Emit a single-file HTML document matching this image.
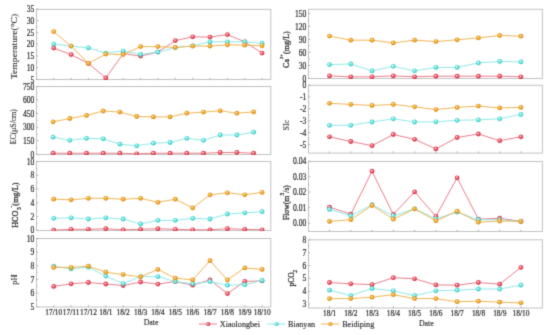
<!DOCTYPE html><html><head><meta charset="utf-8"><style>
html,body{margin:0;padding:0;background:#fff;overflow:hidden;}
svg{display:block;}
text{font-family:"Liberation Serif", serif;fill:#2c2c2c;}
.tk{stroke:#2c2c2c;stroke-width:0.22px;}
.tt{stroke:#2c2c2c;stroke-width:0.25px;}
.lg{stroke:#2c2c2c;stroke-width:0.15px;}
.t2{stroke:#2c2c2c;stroke-width:0.1px;}
</style></head><body>
<svg width="550" height="335" viewBox="0 0 550 335">
<defs>
<radialGradient id="gR" cx="0.5" cy="0.5" r="0.55" fx="0.36" fy="0.32"><stop offset="0" stop-color="#ffffff"/><stop offset="0.22" stop-color="#f8a8b0"/><stop offset="0.55" stop-color="#e84a5a"/><stop offset="1" stop-color="#cc3445"/></radialGradient>
<radialGradient id="gC" cx="0.5" cy="0.5" r="0.55" fx="0.36" fy="0.32"><stop offset="0" stop-color="#ffffff"/><stop offset="0.22" stop-color="#b8f6f2"/><stop offset="0.55" stop-color="#58deD8"/><stop offset="1" stop-color="#36c2c2"/></radialGradient>
<radialGradient id="gO" cx="0.5" cy="0.5" r="0.55" fx="0.36" fy="0.32"><stop offset="0" stop-color="#fff6dc"/><stop offset="0.22" stop-color="#f8cc70"/><stop offset="0.55" stop-color="#eea226"/><stop offset="1" stop-color="#d4881a"/></radialGradient>
<filter id="bl" x="0" y="0" width="1" height="1" color-interpolation-filters="sRGB"><feConvolveMatrix order="3" kernelMatrix="0.0192 0.1001 0.0192 0.1001 0.5228 0.1001 0.0192 0.1001 0.0192" edgeMode="duplicate" preserveAlpha="false"/></filter>
</defs>
<g filter="url(#bl)">
<rect x="0" y="0" width="550" height="335" fill="#fff"/>
<rect x="36.5" y="9.4" width="234.3" height="70.1" fill="none" stroke="#c2c2c2" stroke-width="1"/>
<line x1="36.5" y1="9.0" x2="38.3" y2="9.0" stroke="#999" stroke-width="0.7"/>
<line x1="36.5" y1="14.8" x2="37.7" y2="14.8" stroke="#aaa" stroke-width="0.6"/>
<text transform="translate(34.30,12.15) scale(0.810,1)" font-size="9.40" text-anchor="end" class="tk">35</text>
<line x1="36.5" y1="20.7" x2="38.3" y2="20.7" stroke="#999" stroke-width="0.7"/>
<line x1="36.5" y1="26.5" x2="37.7" y2="26.5" stroke="#aaa" stroke-width="0.6"/>
<text transform="translate(34.30,23.85) scale(0.810,1)" font-size="9.40" text-anchor="end" class="tk">30</text>
<line x1="36.5" y1="32.4" x2="38.3" y2="32.4" stroke="#999" stroke-width="0.7"/>
<line x1="36.5" y1="38.3" x2="37.7" y2="38.3" stroke="#aaa" stroke-width="0.6"/>
<text transform="translate(34.30,35.55) scale(0.810,1)" font-size="9.40" text-anchor="end" class="tk">25</text>
<line x1="36.5" y1="44.2" x2="38.3" y2="44.2" stroke="#999" stroke-width="0.7"/>
<line x1="36.5" y1="50.0" x2="37.7" y2="50.0" stroke="#aaa" stroke-width="0.6"/>
<text transform="translate(34.30,47.35) scale(0.810,1)" font-size="9.40" text-anchor="end" class="tk">20</text>
<line x1="36.5" y1="55.9" x2="38.3" y2="55.9" stroke="#999" stroke-width="0.7"/>
<line x1="36.5" y1="61.8" x2="37.7" y2="61.8" stroke="#aaa" stroke-width="0.6"/>
<text transform="translate(34.30,59.05) scale(0.810,1)" font-size="9.40" text-anchor="end" class="tk">15</text>
<line x1="36.5" y1="67.7" x2="38.3" y2="67.7" stroke="#999" stroke-width="0.7"/>
<line x1="36.5" y1="73.6" x2="37.7" y2="73.6" stroke="#aaa" stroke-width="0.6"/>
<text transform="translate(34.30,70.85) scale(0.810,1)" font-size="9.40" text-anchor="end" class="tk">10</text>
<line x1="36.5" y1="79.4" x2="38.3" y2="79.4" stroke="#999" stroke-width="0.7"/>
<text transform="translate(34.30,82.55) scale(0.810,1)" font-size="9.40" text-anchor="end" class="tk">5</text>
<line x1="53.7" y1="79.5" x2="53.7" y2="77.7" stroke="#999" stroke-width="0.7"/>
<line x1="71.1" y1="79.5" x2="71.1" y2="77.7" stroke="#999" stroke-width="0.7"/>
<line x1="88.4" y1="79.5" x2="88.4" y2="77.7" stroke="#999" stroke-width="0.7"/>
<line x1="105.8" y1="79.5" x2="105.8" y2="77.7" stroke="#999" stroke-width="0.7"/>
<line x1="123.2" y1="79.5" x2="123.2" y2="77.7" stroke="#999" stroke-width="0.7"/>
<line x1="140.6" y1="79.5" x2="140.6" y2="77.7" stroke="#999" stroke-width="0.7"/>
<line x1="157.9" y1="79.5" x2="157.9" y2="77.7" stroke="#999" stroke-width="0.7"/>
<line x1="175.3" y1="79.5" x2="175.3" y2="77.7" stroke="#999" stroke-width="0.7"/>
<line x1="192.7" y1="79.5" x2="192.7" y2="77.7" stroke="#999" stroke-width="0.7"/>
<line x1="210.0" y1="79.5" x2="210.0" y2="77.7" stroke="#999" stroke-width="0.7"/>
<line x1="227.4" y1="79.5" x2="227.4" y2="77.7" stroke="#999" stroke-width="0.7"/>
<line x1="244.8" y1="79.5" x2="244.8" y2="77.7" stroke="#999" stroke-width="0.7"/>
<line x1="262.1" y1="79.5" x2="262.1" y2="77.7" stroke="#999" stroke-width="0.7"/>
<rect x="36.5" y="86.5" width="234.3" height="68.0" fill="none" stroke="#c2c2c2" stroke-width="1"/>
<line x1="36.5" y1="86.4" x2="38.3" y2="86.4" stroke="#999" stroke-width="0.7"/>
<line x1="36.5" y1="93.2" x2="37.7" y2="93.2" stroke="#aaa" stroke-width="0.6"/>
<text transform="translate(34.30,89.55) scale(0.810,1)" font-size="9.40" text-anchor="end" class="tk">750</text>
<line x1="36.5" y1="100.0" x2="38.3" y2="100.0" stroke="#999" stroke-width="0.7"/>
<line x1="36.5" y1="106.8" x2="37.7" y2="106.8" stroke="#aaa" stroke-width="0.6"/>
<text transform="translate(34.30,103.15) scale(0.810,1)" font-size="9.40" text-anchor="end" class="tk">600</text>
<line x1="36.5" y1="113.6" x2="38.3" y2="113.6" stroke="#999" stroke-width="0.7"/>
<line x1="36.5" y1="120.4" x2="37.7" y2="120.4" stroke="#aaa" stroke-width="0.6"/>
<text transform="translate(34.30,116.75) scale(0.810,1)" font-size="9.40" text-anchor="end" class="tk">450</text>
<line x1="36.5" y1="127.2" x2="38.3" y2="127.2" stroke="#999" stroke-width="0.7"/>
<line x1="36.5" y1="134.0" x2="37.7" y2="134.0" stroke="#aaa" stroke-width="0.6"/>
<text transform="translate(34.30,130.35) scale(0.810,1)" font-size="9.40" text-anchor="end" class="tk">300</text>
<line x1="36.5" y1="140.8" x2="38.3" y2="140.8" stroke="#999" stroke-width="0.7"/>
<line x1="36.5" y1="147.6" x2="37.7" y2="147.6" stroke="#aaa" stroke-width="0.6"/>
<text transform="translate(34.30,143.95) scale(0.810,1)" font-size="9.40" text-anchor="end" class="tk">150</text>
<line x1="36.5" y1="154.4" x2="38.3" y2="154.4" stroke="#999" stroke-width="0.7"/>
<text transform="translate(34.30,157.55) scale(0.810,1)" font-size="9.40" text-anchor="end" class="tk">0</text>
<line x1="53.1" y1="154.5" x2="53.1" y2="152.7" stroke="#999" stroke-width="0.7"/>
<line x1="69.8" y1="154.5" x2="69.8" y2="152.7" stroke="#999" stroke-width="0.7"/>
<line x1="86.5" y1="154.5" x2="86.5" y2="152.7" stroke="#999" stroke-width="0.7"/>
<line x1="103.2" y1="154.5" x2="103.2" y2="152.7" stroke="#999" stroke-width="0.7"/>
<line x1="119.9" y1="154.5" x2="119.9" y2="152.7" stroke="#999" stroke-width="0.7"/>
<line x1="136.7" y1="154.5" x2="136.7" y2="152.7" stroke="#999" stroke-width="0.7"/>
<line x1="153.4" y1="154.5" x2="153.4" y2="152.7" stroke="#999" stroke-width="0.7"/>
<line x1="170.1" y1="154.5" x2="170.1" y2="152.7" stroke="#999" stroke-width="0.7"/>
<line x1="186.8" y1="154.5" x2="186.8" y2="152.7" stroke="#999" stroke-width="0.7"/>
<line x1="203.5" y1="154.5" x2="203.5" y2="152.7" stroke="#999" stroke-width="0.7"/>
<line x1="220.2" y1="154.5" x2="220.2" y2="152.7" stroke="#999" stroke-width="0.7"/>
<line x1="236.9" y1="154.5" x2="236.9" y2="152.7" stroke="#999" stroke-width="0.7"/>
<line x1="253.6" y1="154.5" x2="253.6" y2="152.7" stroke="#999" stroke-width="0.7"/>
<rect x="36.5" y="161.5" width="234.3" height="69.0" fill="none" stroke="#c2c2c2" stroke-width="1"/>
<line x1="36.5" y1="161.5" x2="38.3" y2="161.5" stroke="#999" stroke-width="0.7"/>
<line x1="36.5" y1="168.4" x2="37.7" y2="168.4" stroke="#aaa" stroke-width="0.6"/>
<text transform="translate(34.30,164.65) scale(0.810,1)" font-size="9.40" text-anchor="end" class="tk">10</text>
<line x1="36.5" y1="175.3" x2="38.3" y2="175.3" stroke="#999" stroke-width="0.7"/>
<line x1="36.5" y1="182.2" x2="37.7" y2="182.2" stroke="#aaa" stroke-width="0.6"/>
<text transform="translate(34.30,178.45) scale(0.810,1)" font-size="9.40" text-anchor="end" class="tk">8</text>
<line x1="36.5" y1="189.0" x2="38.3" y2="189.0" stroke="#999" stroke-width="0.7"/>
<line x1="36.5" y1="195.9" x2="37.7" y2="195.9" stroke="#aaa" stroke-width="0.6"/>
<text transform="translate(34.30,192.15) scale(0.810,1)" font-size="9.40" text-anchor="end" class="tk">6</text>
<line x1="36.5" y1="202.8" x2="38.3" y2="202.8" stroke="#999" stroke-width="0.7"/>
<line x1="36.5" y1="209.7" x2="37.7" y2="209.7" stroke="#aaa" stroke-width="0.6"/>
<text transform="translate(34.30,205.95) scale(0.810,1)" font-size="9.40" text-anchor="end" class="tk">4</text>
<line x1="36.5" y1="216.5" x2="38.3" y2="216.5" stroke="#999" stroke-width="0.7"/>
<line x1="36.5" y1="223.4" x2="37.7" y2="223.4" stroke="#aaa" stroke-width="0.6"/>
<text transform="translate(34.30,219.65) scale(0.810,1)" font-size="9.40" text-anchor="end" class="tk">2</text>
<line x1="36.5" y1="230.3" x2="38.3" y2="230.3" stroke="#999" stroke-width="0.7"/>
<text transform="translate(34.30,233.45) scale(0.810,1)" font-size="9.40" text-anchor="end" class="tk">0</text>
<line x1="53.7" y1="230.5" x2="53.7" y2="228.7" stroke="#999" stroke-width="0.7"/>
<line x1="71.1" y1="230.5" x2="71.1" y2="228.7" stroke="#999" stroke-width="0.7"/>
<line x1="88.4" y1="230.5" x2="88.4" y2="228.7" stroke="#999" stroke-width="0.7"/>
<line x1="105.8" y1="230.5" x2="105.8" y2="228.7" stroke="#999" stroke-width="0.7"/>
<line x1="123.2" y1="230.5" x2="123.2" y2="228.7" stroke="#999" stroke-width="0.7"/>
<line x1="140.6" y1="230.5" x2="140.6" y2="228.7" stroke="#999" stroke-width="0.7"/>
<line x1="157.9" y1="230.5" x2="157.9" y2="228.7" stroke="#999" stroke-width="0.7"/>
<line x1="175.3" y1="230.5" x2="175.3" y2="228.7" stroke="#999" stroke-width="0.7"/>
<line x1="192.7" y1="230.5" x2="192.7" y2="228.7" stroke="#999" stroke-width="0.7"/>
<line x1="210.0" y1="230.5" x2="210.0" y2="228.7" stroke="#999" stroke-width="0.7"/>
<line x1="227.4" y1="230.5" x2="227.4" y2="228.7" stroke="#999" stroke-width="0.7"/>
<line x1="244.8" y1="230.5" x2="244.8" y2="228.7" stroke="#999" stroke-width="0.7"/>
<line x1="262.1" y1="230.5" x2="262.1" y2="228.7" stroke="#999" stroke-width="0.7"/>
<rect x="36.5" y="238.5" width="234.3" height="68.5" fill="none" stroke="#c2c2c2" stroke-width="1"/>
<line x1="36.5" y1="238.5" x2="38.3" y2="238.5" stroke="#999" stroke-width="0.7"/>
<line x1="36.5" y1="245.3" x2="37.7" y2="245.3" stroke="#aaa" stroke-width="0.6"/>
<text transform="translate(34.30,241.65) scale(0.810,1)" font-size="9.40" text-anchor="end" class="tk">10</text>
<line x1="36.5" y1="252.2" x2="38.3" y2="252.2" stroke="#999" stroke-width="0.7"/>
<line x1="36.5" y1="259.0" x2="37.7" y2="259.0" stroke="#aaa" stroke-width="0.6"/>
<text transform="translate(34.30,255.35) scale(0.810,1)" font-size="9.40" text-anchor="end" class="tk">9</text>
<line x1="36.5" y1="265.8" x2="38.3" y2="265.8" stroke="#999" stroke-width="0.7"/>
<line x1="36.5" y1="272.6" x2="37.7" y2="272.6" stroke="#aaa" stroke-width="0.6"/>
<text transform="translate(34.30,268.95) scale(0.810,1)" font-size="9.40" text-anchor="end" class="tk">8</text>
<line x1="36.5" y1="279.5" x2="38.3" y2="279.5" stroke="#999" stroke-width="0.7"/>
<line x1="36.5" y1="286.3" x2="37.7" y2="286.3" stroke="#aaa" stroke-width="0.6"/>
<text transform="translate(34.30,282.65) scale(0.810,1)" font-size="9.40" text-anchor="end" class="tk">7</text>
<line x1="36.5" y1="293.1" x2="38.3" y2="293.1" stroke="#999" stroke-width="0.7"/>
<line x1="36.5" y1="300.0" x2="37.7" y2="300.0" stroke="#aaa" stroke-width="0.6"/>
<text transform="translate(34.30,296.25) scale(0.810,1)" font-size="9.40" text-anchor="end" class="tk">6</text>
<line x1="36.5" y1="306.8" x2="38.3" y2="306.8" stroke="#999" stroke-width="0.7"/>
<text transform="translate(34.30,309.95) scale(0.810,1)" font-size="9.40" text-anchor="end" class="tk">5</text>
<line x1="53.7" y1="307.0" x2="53.7" y2="305.2" stroke="#999" stroke-width="0.7"/>
<line x1="71.1" y1="307.0" x2="71.1" y2="305.2" stroke="#999" stroke-width="0.7"/>
<line x1="88.4" y1="307.0" x2="88.4" y2="305.2" stroke="#999" stroke-width="0.7"/>
<line x1="105.8" y1="307.0" x2="105.8" y2="305.2" stroke="#999" stroke-width="0.7"/>
<line x1="123.2" y1="307.0" x2="123.2" y2="305.2" stroke="#999" stroke-width="0.7"/>
<line x1="140.6" y1="307.0" x2="140.6" y2="305.2" stroke="#999" stroke-width="0.7"/>
<line x1="157.9" y1="307.0" x2="157.9" y2="305.2" stroke="#999" stroke-width="0.7"/>
<line x1="175.3" y1="307.0" x2="175.3" y2="305.2" stroke="#999" stroke-width="0.7"/>
<line x1="192.7" y1="307.0" x2="192.7" y2="305.2" stroke="#999" stroke-width="0.7"/>
<line x1="210.0" y1="307.0" x2="210.0" y2="305.2" stroke="#999" stroke-width="0.7"/>
<line x1="227.4" y1="307.0" x2="227.4" y2="305.2" stroke="#999" stroke-width="0.7"/>
<line x1="244.8" y1="307.0" x2="244.8" y2="305.2" stroke="#999" stroke-width="0.7"/>
<line x1="262.1" y1="307.0" x2="262.1" y2="305.2" stroke="#999" stroke-width="0.7"/>
<rect x="308.5" y="9.3" width="233.9" height="69.2" fill="none" stroke="#c2c2c2" stroke-width="1"/>
<line x1="308.5" y1="13.5" x2="310.3" y2="13.5" stroke="#999" stroke-width="0.7"/>
<line x1="308.5" y1="19.9" x2="309.7" y2="19.9" stroke="#aaa" stroke-width="0.6"/>
<text transform="translate(306.30,16.65) scale(0.810,1)" font-size="9.40" text-anchor="end" class="tk">150</text>
<line x1="308.5" y1="26.4" x2="310.3" y2="26.4" stroke="#999" stroke-width="0.7"/>
<line x1="308.5" y1="32.9" x2="309.7" y2="32.9" stroke="#aaa" stroke-width="0.6"/>
<text transform="translate(306.30,29.55) scale(0.810,1)" font-size="9.40" text-anchor="end" class="tk">120</text>
<line x1="308.5" y1="39.4" x2="310.3" y2="39.4" stroke="#999" stroke-width="0.7"/>
<line x1="308.5" y1="45.9" x2="309.7" y2="45.9" stroke="#aaa" stroke-width="0.6"/>
<text transform="translate(306.30,42.55) scale(0.810,1)" font-size="9.40" text-anchor="end" class="tk">90</text>
<line x1="308.5" y1="52.4" x2="310.3" y2="52.4" stroke="#999" stroke-width="0.7"/>
<line x1="308.5" y1="58.9" x2="309.7" y2="58.9" stroke="#aaa" stroke-width="0.6"/>
<text transform="translate(306.30,55.55) scale(0.810,1)" font-size="9.40" text-anchor="end" class="tk">60</text>
<line x1="308.5" y1="65.4" x2="310.3" y2="65.4" stroke="#999" stroke-width="0.7"/>
<line x1="308.5" y1="71.9" x2="309.7" y2="71.9" stroke="#aaa" stroke-width="0.6"/>
<text transform="translate(306.30,68.55) scale(0.810,1)" font-size="9.40" text-anchor="end" class="tk">30</text>
<line x1="308.5" y1="78.4" x2="310.3" y2="78.4" stroke="#999" stroke-width="0.7"/>
<text transform="translate(306.30,81.55) scale(0.810,1)" font-size="9.40" text-anchor="end" class="tk">0</text>
<line x1="329.5" y1="78.5" x2="329.5" y2="76.7" stroke="#999" stroke-width="0.7"/>
<line x1="350.8" y1="78.5" x2="350.8" y2="76.7" stroke="#999" stroke-width="0.7"/>
<line x1="372.0" y1="78.5" x2="372.0" y2="76.7" stroke="#999" stroke-width="0.7"/>
<line x1="393.3" y1="78.5" x2="393.3" y2="76.7" stroke="#999" stroke-width="0.7"/>
<line x1="414.6" y1="78.5" x2="414.6" y2="76.7" stroke="#999" stroke-width="0.7"/>
<line x1="435.9" y1="78.5" x2="435.9" y2="76.7" stroke="#999" stroke-width="0.7"/>
<line x1="457.1" y1="78.5" x2="457.1" y2="76.7" stroke="#999" stroke-width="0.7"/>
<line x1="478.4" y1="78.5" x2="478.4" y2="76.7" stroke="#999" stroke-width="0.7"/>
<line x1="499.7" y1="78.5" x2="499.7" y2="76.7" stroke="#999" stroke-width="0.7"/>
<line x1="520.9" y1="78.5" x2="520.9" y2="76.7" stroke="#999" stroke-width="0.7"/>
<rect x="308.5" y="85.3" width="233.9" height="67.8" fill="none" stroke="#c2c2c2" stroke-width="1"/>
<line x1="308.5" y1="85.0" x2="310.3" y2="85.0" stroke="#999" stroke-width="0.7"/>
<line x1="308.5" y1="91.0" x2="309.7" y2="91.0" stroke="#aaa" stroke-width="0.6"/>
<text transform="translate(306.30,88.15) scale(0.810,1)" font-size="9.40" text-anchor="end" class="tk">0</text>
<line x1="308.5" y1="96.9" x2="310.3" y2="96.9" stroke="#999" stroke-width="0.7"/>
<line x1="308.5" y1="102.8" x2="309.7" y2="102.8" stroke="#aaa" stroke-width="0.6"/>
<text transform="translate(306.30,100.05) scale(0.810,1)" font-size="9.40" text-anchor="end" class="tk">-1</text>
<line x1="308.5" y1="108.8" x2="310.3" y2="108.8" stroke="#999" stroke-width="0.7"/>
<line x1="308.5" y1="114.8" x2="309.7" y2="114.8" stroke="#aaa" stroke-width="0.6"/>
<text transform="translate(306.30,111.95) scale(0.810,1)" font-size="9.40" text-anchor="end" class="tk">-2</text>
<line x1="308.5" y1="120.7" x2="310.3" y2="120.7" stroke="#999" stroke-width="0.7"/>
<line x1="308.5" y1="126.7" x2="309.7" y2="126.7" stroke="#aaa" stroke-width="0.6"/>
<text transform="translate(306.30,123.85) scale(0.810,1)" font-size="9.40" text-anchor="end" class="tk">-3</text>
<line x1="308.5" y1="132.6" x2="310.3" y2="132.6" stroke="#999" stroke-width="0.7"/>
<line x1="308.5" y1="138.6" x2="309.7" y2="138.6" stroke="#aaa" stroke-width="0.6"/>
<text transform="translate(306.30,135.75) scale(0.810,1)" font-size="9.40" text-anchor="end" class="tk">-4</text>
<line x1="308.5" y1="144.5" x2="310.3" y2="144.5" stroke="#999" stroke-width="0.7"/>
<text transform="translate(306.30,147.65) scale(0.810,1)" font-size="9.40" text-anchor="end" class="tk">-5</text>
<line x1="329.5" y1="153.1" x2="329.5" y2="151.3" stroke="#999" stroke-width="0.7"/>
<line x1="350.8" y1="153.1" x2="350.8" y2="151.3" stroke="#999" stroke-width="0.7"/>
<line x1="372.0" y1="153.1" x2="372.0" y2="151.3" stroke="#999" stroke-width="0.7"/>
<line x1="393.3" y1="153.1" x2="393.3" y2="151.3" stroke="#999" stroke-width="0.7"/>
<line x1="414.6" y1="153.1" x2="414.6" y2="151.3" stroke="#999" stroke-width="0.7"/>
<line x1="435.9" y1="153.1" x2="435.9" y2="151.3" stroke="#999" stroke-width="0.7"/>
<line x1="457.1" y1="153.1" x2="457.1" y2="151.3" stroke="#999" stroke-width="0.7"/>
<line x1="478.4" y1="153.1" x2="478.4" y2="151.3" stroke="#999" stroke-width="0.7"/>
<line x1="499.7" y1="153.1" x2="499.7" y2="151.3" stroke="#999" stroke-width="0.7"/>
<line x1="520.9" y1="153.1" x2="520.9" y2="151.3" stroke="#999" stroke-width="0.7"/>
<rect x="308.5" y="161.5" width="233.9" height="70.0" fill="none" stroke="#c2c2c2" stroke-width="1"/>
<line x1="308.5" y1="161.0" x2="310.3" y2="161.0" stroke="#999" stroke-width="0.7"/>
<line x1="308.5" y1="168.8" x2="309.7" y2="168.8" stroke="#aaa" stroke-width="0.6"/>
<text transform="translate(306.30,164.15) scale(0.810,1)" font-size="9.40" text-anchor="end" class="tk">0.04</text>
<line x1="308.5" y1="176.6" x2="310.3" y2="176.6" stroke="#999" stroke-width="0.7"/>
<line x1="308.5" y1="184.3" x2="309.7" y2="184.3" stroke="#aaa" stroke-width="0.6"/>
<text transform="translate(306.30,179.70) scale(0.810,1)" font-size="9.40" text-anchor="end" class="tk">0.03</text>
<line x1="308.5" y1="192.1" x2="310.3" y2="192.1" stroke="#999" stroke-width="0.7"/>
<line x1="308.5" y1="199.9" x2="309.7" y2="199.9" stroke="#aaa" stroke-width="0.6"/>
<text transform="translate(306.30,195.25) scale(0.810,1)" font-size="9.40" text-anchor="end" class="tk">0.02</text>
<line x1="308.5" y1="207.7" x2="310.3" y2="207.7" stroke="#999" stroke-width="0.7"/>
<line x1="308.5" y1="215.4" x2="309.7" y2="215.4" stroke="#aaa" stroke-width="0.6"/>
<text transform="translate(306.30,210.80) scale(0.810,1)" font-size="9.40" text-anchor="end" class="tk">0.01</text>
<line x1="308.5" y1="223.2" x2="310.3" y2="223.2" stroke="#999" stroke-width="0.7"/>
<text transform="translate(306.30,226.35) scale(0.810,1)" font-size="9.40" text-anchor="end" class="tk">0.00</text>
<line x1="329.5" y1="231.5" x2="329.5" y2="229.7" stroke="#999" stroke-width="0.7"/>
<line x1="350.8" y1="231.5" x2="350.8" y2="229.7" stroke="#999" stroke-width="0.7"/>
<line x1="372.0" y1="231.5" x2="372.0" y2="229.7" stroke="#999" stroke-width="0.7"/>
<line x1="393.3" y1="231.5" x2="393.3" y2="229.7" stroke="#999" stroke-width="0.7"/>
<line x1="414.6" y1="231.5" x2="414.6" y2="229.7" stroke="#999" stroke-width="0.7"/>
<line x1="435.9" y1="231.5" x2="435.9" y2="229.7" stroke="#999" stroke-width="0.7"/>
<line x1="457.1" y1="231.5" x2="457.1" y2="229.7" stroke="#999" stroke-width="0.7"/>
<line x1="478.4" y1="231.5" x2="478.4" y2="229.7" stroke="#999" stroke-width="0.7"/>
<line x1="499.7" y1="231.5" x2="499.7" y2="229.7" stroke="#999" stroke-width="0.7"/>
<line x1="520.9" y1="231.5" x2="520.9" y2="229.7" stroke="#999" stroke-width="0.7"/>
<rect x="308.5" y="239.8" width="233.9" height="68.2" fill="none" stroke="#c2c2c2" stroke-width="1"/>
<line x1="308.5" y1="239.8" x2="310.3" y2="239.8" stroke="#999" stroke-width="0.7"/>
<line x1="308.5" y1="246.2" x2="309.7" y2="246.2" stroke="#aaa" stroke-width="0.6"/>
<text transform="translate(306.30,242.95) scale(0.810,1)" font-size="9.40" text-anchor="end" class="tk">8</text>
<line x1="308.5" y1="252.6" x2="310.3" y2="252.6" stroke="#999" stroke-width="0.7"/>
<line x1="308.5" y1="259.1" x2="309.7" y2="259.1" stroke="#aaa" stroke-width="0.6"/>
<text transform="translate(306.30,255.75) scale(0.810,1)" font-size="9.40" text-anchor="end" class="tk">7</text>
<line x1="308.5" y1="265.5" x2="310.3" y2="265.5" stroke="#999" stroke-width="0.7"/>
<line x1="308.5" y1="271.9" x2="309.7" y2="271.9" stroke="#aaa" stroke-width="0.6"/>
<text transform="translate(306.30,268.65) scale(0.810,1)" font-size="9.40" text-anchor="end" class="tk">6</text>
<line x1="308.5" y1="278.3" x2="310.3" y2="278.3" stroke="#999" stroke-width="0.7"/>
<line x1="308.5" y1="284.8" x2="309.7" y2="284.8" stroke="#aaa" stroke-width="0.6"/>
<text transform="translate(306.30,281.45) scale(0.810,1)" font-size="9.40" text-anchor="end" class="tk">5</text>
<line x1="308.5" y1="291.2" x2="310.3" y2="291.2" stroke="#999" stroke-width="0.7"/>
<line x1="308.5" y1="297.6" x2="309.7" y2="297.6" stroke="#aaa" stroke-width="0.6"/>
<text transform="translate(306.30,294.35) scale(0.810,1)" font-size="9.40" text-anchor="end" class="tk">4</text>
<line x1="308.5" y1="304.0" x2="310.3" y2="304.0" stroke="#999" stroke-width="0.7"/>
<text transform="translate(306.30,307.15) scale(0.810,1)" font-size="9.40" text-anchor="end" class="tk">3</text>
<line x1="329.5" y1="308.0" x2="329.5" y2="306.2" stroke="#999" stroke-width="0.7"/>
<line x1="350.8" y1="308.0" x2="350.8" y2="306.2" stroke="#999" stroke-width="0.7"/>
<line x1="372.0" y1="308.0" x2="372.0" y2="306.2" stroke="#999" stroke-width="0.7"/>
<line x1="393.3" y1="308.0" x2="393.3" y2="306.2" stroke="#999" stroke-width="0.7"/>
<line x1="414.6" y1="308.0" x2="414.6" y2="306.2" stroke="#999" stroke-width="0.7"/>
<line x1="435.9" y1="308.0" x2="435.9" y2="306.2" stroke="#999" stroke-width="0.7"/>
<line x1="457.1" y1="308.0" x2="457.1" y2="306.2" stroke="#999" stroke-width="0.7"/>
<line x1="478.4" y1="308.0" x2="478.4" y2="306.2" stroke="#999" stroke-width="0.7"/>
<line x1="499.7" y1="308.0" x2="499.7" y2="306.2" stroke="#999" stroke-width="0.7"/>
<line x1="520.9" y1="308.0" x2="520.9" y2="306.2" stroke="#999" stroke-width="0.7"/>
<text transform="translate(53.70,314.70) scale(0.930,1)" font-size="8.00" text-anchor="middle" class="tk">17/10</text>
<text transform="translate(71.07,314.70) scale(0.930,1)" font-size="8.00" text-anchor="middle" class="tk">17/11</text>
<text transform="translate(88.44,314.70) scale(0.930,1)" font-size="8.00" text-anchor="middle" class="tk">17/12</text>
<text transform="translate(105.81,314.70) scale(0.930,1)" font-size="8.00" text-anchor="middle" class="tk">18/1</text>
<text transform="translate(123.18,314.70) scale(0.930,1)" font-size="8.00" text-anchor="middle" class="tk">18/2</text>
<text transform="translate(140.55,314.70) scale(0.930,1)" font-size="8.00" text-anchor="middle" class="tk">18/3</text>
<text transform="translate(157.92,314.70) scale(0.930,1)" font-size="8.00" text-anchor="middle" class="tk">18/4</text>
<text transform="translate(175.29,314.70) scale(0.930,1)" font-size="8.00" text-anchor="middle" class="tk">18/5</text>
<text transform="translate(192.66,314.70) scale(0.930,1)" font-size="8.00" text-anchor="middle" class="tk">18/6</text>
<text transform="translate(210.03,314.70) scale(0.930,1)" font-size="8.00" text-anchor="middle" class="tk">18/7</text>
<text transform="translate(227.40,314.70) scale(0.930,1)" font-size="8.00" text-anchor="middle" class="tk">18/8</text>
<text transform="translate(244.77,314.70) scale(0.930,1)" font-size="8.00" text-anchor="middle" class="tk">18/9</text>
<text transform="translate(262.14,314.70) scale(0.930,1)" font-size="8.00" text-anchor="middle" class="tk">18/10</text>
<text transform="translate(329.60,315.90) scale(0.930,1)" font-size="8.00" text-anchor="middle" class="tk">18/1</text>
<text transform="translate(350.87,315.90) scale(0.930,1)" font-size="8.00" text-anchor="middle" class="tk">18/2</text>
<text transform="translate(372.14,315.90) scale(0.930,1)" font-size="8.00" text-anchor="middle" class="tk">18/3</text>
<text transform="translate(393.41,315.90) scale(0.930,1)" font-size="8.00" text-anchor="middle" class="tk">18/4</text>
<text transform="translate(414.68,315.90) scale(0.930,1)" font-size="8.00" text-anchor="middle" class="tk">18/5</text>
<text transform="translate(435.95,315.90) scale(0.930,1)" font-size="8.00" text-anchor="middle" class="tk">18/6</text>
<text transform="translate(457.22,315.90) scale(0.930,1)" font-size="8.00" text-anchor="middle" class="tk">18/7</text>
<text transform="translate(478.49,315.90) scale(0.930,1)" font-size="8.00" text-anchor="middle" class="tk">18/8</text>
<text transform="translate(499.76,315.90) scale(0.930,1)" font-size="8.00" text-anchor="middle" class="tk">18/9</text>
<text transform="translate(521.03,315.90) scale(0.930,1)" font-size="8.00" text-anchor="middle" class="tk">18/10</text>
<text transform="translate(151.10,325.00) scale(0.900,1)" font-size="8.70" text-anchor="middle" class="lg">Date</text>
<text transform="translate(426.30,325.60) scale(0.900,1)" font-size="8.70" text-anchor="middle" class="lg">Date</text>
<text transform="translate(16.8,46.5) rotate(-90)" font-size="9.20" text-anchor="middle" class="t2" textLength="65.5" lengthAdjust="spacingAndGlyphs">Temperature(&#176;C)</text>
<text transform="translate(16.3,126.7) rotate(-90)" font-size="7.80" text-anchor="middle" class="t2" textLength="35.0" lengthAdjust="spacingAndGlyphs">EC(&#956;S/cm)</text>
<g transform="translate(18.00,227.80) rotate(-90)">
<text x="0.00" y="0.00" font-size="8.20" class="tt">HCO</text>
<text x="17.70" y="2.50" font-size="5.50" class="tt">3</text>
<text x="20.30" y="-5.00" font-size="5.50" class="tt">-</text>
<text x="22.00" y="0.00" font-size="8.20" class="tt">(mg/L)</text>
</g>
<text transform="translate(17.0,279.6) rotate(-90)" font-size="8.60" text-anchor="middle" class="t2" textLength="10.3" lengthAdjust="spacingAndGlyphs">pH</text>
<g transform="translate(289.00,68.00) rotate(-90)">
<text x="0.00" y="0.00" font-size="8.10" class="tt">Ca</text>
<text x="9.00" y="-5.60" font-size="4.40" class="tt">2+</text>
<text x="13.90" y="0.00" font-size="8.10" class="tt">(mg/L)</text>
</g>
<text transform="translate(289.3,125.2) rotate(-90)" font-size="8.00" text-anchor="middle" class="t2" textLength="10.5" lengthAdjust="spacingAndGlyphs">SIc</text>
<g transform="translate(288.60,220.10) rotate(-90)">
<text x="0.00" y="0.00" font-size="7.70" class="tt">Flow(m</text>
<text x="24.60" y="-4.80" font-size="5.40" class="tt">3</text>
<text x="27.40" y="0.00" font-size="7.60" class="tt">/s)</text>
</g>
<g transform="translate(294.30,286.40) rotate(-90)">
<text x="0.00" y="0.00" font-size="7.50" class="tt">pCO</text>
<text x="13.60" y="2.60" font-size="5.80" class="tt">2</text>
</g>
<clipPath id="cpL1"><rect x="33.5" y="8.9" width="240.3" height="71.1"/></clipPath>
<g clip-path="url(#cpL1)">
<polyline points="53.7,48.1 71.1,54.6 88.4,63.4 105.8,78.0 123.2,53.6 140.6,56.1 157.9,52.1 175.3,40.6 192.7,36.8 210.0,37.1 227.4,34.6 244.8,41.8 262.1,53.1" fill="none" stroke="#e8707e" stroke-width="0.90"/>
<circle cx="53.7" cy="48.1" r="2.4" fill="url(#gR)"/>
<circle cx="71.1" cy="54.6" r="2.4" fill="url(#gR)"/>
<circle cx="88.4" cy="63.4" r="2.4" fill="url(#gR)"/>
<circle cx="105.8" cy="78.0" r="2.4" fill="url(#gR)"/>
<circle cx="123.2" cy="53.6" r="2.4" fill="url(#gR)"/>
<circle cx="140.6" cy="56.1" r="2.4" fill="url(#gR)"/>
<circle cx="157.9" cy="52.1" r="2.4" fill="url(#gR)"/>
<circle cx="175.3" cy="40.6" r="2.4" fill="url(#gR)"/>
<circle cx="192.7" cy="36.8" r="2.4" fill="url(#gR)"/>
<circle cx="210.0" cy="37.1" r="2.4" fill="url(#gR)"/>
<circle cx="227.4" cy="34.6" r="2.4" fill="url(#gR)"/>
<circle cx="244.8" cy="41.8" r="2.4" fill="url(#gR)"/>
<circle cx="262.1" cy="53.1" r="2.4" fill="url(#gR)"/>
<polyline points="53.7,44.1 71.1,46.1 88.4,47.9 105.8,53.1 123.2,51.1 140.6,54.4 157.9,52.1 175.3,47.6 192.7,45.9 210.0,41.8 227.4,41.8 244.8,41.8 262.1,43.5" fill="none" stroke="#84e6e2" stroke-width="0.90"/>
<circle cx="53.7" cy="44.1" r="2.4" fill="url(#gC)"/>
<circle cx="71.1" cy="46.1" r="2.4" fill="url(#gC)"/>
<circle cx="88.4" cy="47.9" r="2.4" fill="url(#gC)"/>
<circle cx="105.8" cy="53.1" r="2.4" fill="url(#gC)"/>
<circle cx="123.2" cy="51.1" r="2.4" fill="url(#gC)"/>
<circle cx="140.6" cy="54.4" r="2.4" fill="url(#gC)"/>
<circle cx="157.9" cy="52.1" r="2.4" fill="url(#gC)"/>
<circle cx="175.3" cy="47.6" r="2.4" fill="url(#gC)"/>
<circle cx="192.7" cy="45.9" r="2.4" fill="url(#gC)"/>
<circle cx="210.0" cy="41.8" r="2.4" fill="url(#gC)"/>
<circle cx="227.4" cy="41.8" r="2.4" fill="url(#gC)"/>
<circle cx="244.8" cy="41.8" r="2.4" fill="url(#gC)"/>
<circle cx="262.1" cy="43.5" r="2.4" fill="url(#gC)"/>
<polyline points="53.7,31.6 71.1,46.1 88.4,63.4 105.8,54.1 123.2,54.6 140.6,46.6 157.9,46.6 175.3,47.4 192.7,46.1 210.0,46.1 227.4,44.8 244.8,45.2 262.1,45.8" fill="none" stroke="#ecad44" stroke-width="0.90"/>
<circle cx="53.7" cy="31.6" r="2.4" fill="url(#gO)"/>
<circle cx="71.1" cy="46.1" r="2.4" fill="url(#gO)"/>
<circle cx="88.4" cy="63.4" r="2.4" fill="url(#gO)"/>
<circle cx="105.8" cy="54.1" r="2.4" fill="url(#gO)"/>
<circle cx="123.2" cy="54.6" r="2.4" fill="url(#gO)"/>
<circle cx="140.6" cy="46.6" r="2.4" fill="url(#gO)"/>
<circle cx="157.9" cy="46.6" r="2.4" fill="url(#gO)"/>
<circle cx="175.3" cy="47.4" r="2.4" fill="url(#gO)"/>
<circle cx="192.7" cy="46.1" r="2.4" fill="url(#gO)"/>
<circle cx="210.0" cy="46.1" r="2.4" fill="url(#gO)"/>
<circle cx="227.4" cy="44.8" r="2.4" fill="url(#gO)"/>
<circle cx="244.8" cy="45.2" r="2.4" fill="url(#gO)"/>
<circle cx="262.1" cy="45.8" r="2.4" fill="url(#gO)"/>
</g>
<clipPath id="cpL2"><rect x="33.5" y="86.0" width="240.3" height="69.0"/></clipPath>
<g clip-path="url(#cpL2)">
<polyline points="53.1,153.2 69.8,153.2 86.5,153.2 103.2,153.2 119.9,153.2 136.7,153.8 153.4,153.2 170.1,153.2 186.8,153.2 203.5,153.2 220.2,152.5 236.9,152.5 253.6,153.2" fill="none" stroke="#e8707e" stroke-width="0.90"/>
<circle cx="53.1" cy="153.2" r="2.4" fill="url(#gR)"/>
<circle cx="69.8" cy="153.2" r="2.4" fill="url(#gR)"/>
<circle cx="86.5" cy="153.2" r="2.4" fill="url(#gR)"/>
<circle cx="103.2" cy="153.2" r="2.4" fill="url(#gR)"/>
<circle cx="119.9" cy="153.2" r="2.4" fill="url(#gR)"/>
<circle cx="136.7" cy="153.8" r="2.4" fill="url(#gR)"/>
<circle cx="153.4" cy="153.2" r="2.4" fill="url(#gR)"/>
<circle cx="170.1" cy="153.2" r="2.4" fill="url(#gR)"/>
<circle cx="186.8" cy="153.2" r="2.4" fill="url(#gR)"/>
<circle cx="203.5" cy="153.2" r="2.4" fill="url(#gR)"/>
<circle cx="220.2" cy="152.5" r="2.4" fill="url(#gR)"/>
<circle cx="236.9" cy="152.5" r="2.4" fill="url(#gR)"/>
<circle cx="253.6" cy="153.2" r="2.4" fill="url(#gR)"/>
<polyline points="53.1,137.2 69.8,140.3 86.5,138.3 103.2,138.8 119.9,144.2 136.7,145.8 153.4,143.2 170.1,142.5 186.8,138.3 203.5,140.3 220.2,135.0 236.9,135.0 253.6,132.2" fill="none" stroke="#84e6e2" stroke-width="0.90"/>
<circle cx="53.1" cy="137.2" r="2.4" fill="url(#gC)"/>
<circle cx="69.8" cy="140.3" r="2.4" fill="url(#gC)"/>
<circle cx="86.5" cy="138.3" r="2.4" fill="url(#gC)"/>
<circle cx="103.2" cy="138.8" r="2.4" fill="url(#gC)"/>
<circle cx="119.9" cy="144.2" r="2.4" fill="url(#gC)"/>
<circle cx="136.7" cy="145.8" r="2.4" fill="url(#gC)"/>
<circle cx="153.4" cy="143.2" r="2.4" fill="url(#gC)"/>
<circle cx="170.1" cy="142.5" r="2.4" fill="url(#gC)"/>
<circle cx="186.8" cy="138.3" r="2.4" fill="url(#gC)"/>
<circle cx="203.5" cy="140.3" r="2.4" fill="url(#gC)"/>
<circle cx="220.2" cy="135.0" r="2.4" fill="url(#gC)"/>
<circle cx="236.9" cy="135.0" r="2.4" fill="url(#gC)"/>
<circle cx="253.6" cy="132.2" r="2.4" fill="url(#gC)"/>
<polyline points="53.1,121.8 69.8,118.5 86.5,115.4 103.2,111.0 119.9,112.1 136.7,116.5 153.4,116.9 170.1,116.9 186.8,113.2 203.5,112.1 220.2,110.8 236.9,113.2 253.6,111.9" fill="none" stroke="#ecad44" stroke-width="0.90"/>
<circle cx="53.1" cy="121.8" r="2.4" fill="url(#gO)"/>
<circle cx="69.8" cy="118.5" r="2.4" fill="url(#gO)"/>
<circle cx="86.5" cy="115.4" r="2.4" fill="url(#gO)"/>
<circle cx="103.2" cy="111.0" r="2.4" fill="url(#gO)"/>
<circle cx="119.9" cy="112.1" r="2.4" fill="url(#gO)"/>
<circle cx="136.7" cy="116.5" r="2.4" fill="url(#gO)"/>
<circle cx="153.4" cy="116.9" r="2.4" fill="url(#gO)"/>
<circle cx="170.1" cy="116.9" r="2.4" fill="url(#gO)"/>
<circle cx="186.8" cy="113.2" r="2.4" fill="url(#gO)"/>
<circle cx="203.5" cy="112.1" r="2.4" fill="url(#gO)"/>
<circle cx="220.2" cy="110.8" r="2.4" fill="url(#gO)"/>
<circle cx="236.9" cy="113.2" r="2.4" fill="url(#gO)"/>
<circle cx="253.6" cy="111.9" r="2.4" fill="url(#gO)"/>
</g>
<clipPath id="cpL3"><rect x="33.5" y="161.0" width="240.3" height="70.0"/></clipPath>
<g clip-path="url(#cpL3)">
<polyline points="53.7,230.2 71.1,229.3 88.4,229.3 105.8,228.7 123.2,229.9 140.6,229.3 157.9,228.7 175.3,229.3 192.7,229.8 210.0,229.8 227.4,228.7 244.8,229.3 262.1,229.8" fill="none" stroke="#e8707e" stroke-width="0.90"/>
<circle cx="53.7" cy="230.2" r="2.4" fill="url(#gR)"/>
<circle cx="71.1" cy="229.3" r="2.4" fill="url(#gR)"/>
<circle cx="88.4" cy="229.3" r="2.4" fill="url(#gR)"/>
<circle cx="105.8" cy="228.7" r="2.4" fill="url(#gR)"/>
<circle cx="123.2" cy="229.9" r="2.4" fill="url(#gR)"/>
<circle cx="140.6" cy="229.3" r="2.4" fill="url(#gR)"/>
<circle cx="157.9" cy="228.7" r="2.4" fill="url(#gR)"/>
<circle cx="175.3" cy="229.3" r="2.4" fill="url(#gR)"/>
<circle cx="192.7" cy="229.8" r="2.4" fill="url(#gR)"/>
<circle cx="210.0" cy="229.8" r="2.4" fill="url(#gR)"/>
<circle cx="227.4" cy="228.7" r="2.4" fill="url(#gR)"/>
<circle cx="244.8" cy="229.3" r="2.4" fill="url(#gR)"/>
<circle cx="262.1" cy="229.8" r="2.4" fill="url(#gR)"/>
<polyline points="53.7,218.3 71.1,217.8 88.4,219.0 105.8,217.8 123.2,219.0 140.6,224.0 157.9,220.3 175.3,220.3 192.7,218.3 210.0,219.0 227.4,214.0 244.8,212.8 262.1,211.7" fill="none" stroke="#84e6e2" stroke-width="0.90"/>
<circle cx="53.7" cy="218.3" r="2.4" fill="url(#gC)"/>
<circle cx="71.1" cy="217.8" r="2.4" fill="url(#gC)"/>
<circle cx="88.4" cy="219.0" r="2.4" fill="url(#gC)"/>
<circle cx="105.8" cy="217.8" r="2.4" fill="url(#gC)"/>
<circle cx="123.2" cy="219.0" r="2.4" fill="url(#gC)"/>
<circle cx="140.6" cy="224.0" r="2.4" fill="url(#gC)"/>
<circle cx="157.9" cy="220.3" r="2.4" fill="url(#gC)"/>
<circle cx="175.3" cy="220.3" r="2.4" fill="url(#gC)"/>
<circle cx="192.7" cy="218.3" r="2.4" fill="url(#gC)"/>
<circle cx="210.0" cy="219.0" r="2.4" fill="url(#gC)"/>
<circle cx="227.4" cy="214.0" r="2.4" fill="url(#gC)"/>
<circle cx="244.8" cy="212.8" r="2.4" fill="url(#gC)"/>
<circle cx="262.1" cy="211.7" r="2.4" fill="url(#gC)"/>
<polyline points="53.7,199.2 71.1,199.8 88.4,198.3 105.8,198.3 123.2,199.2 140.6,198.3 157.9,202.3 175.3,199.2 192.7,207.9 210.0,194.8 227.4,192.8 244.8,194.8 262.1,192.4" fill="none" stroke="#ecad44" stroke-width="0.90"/>
<circle cx="53.7" cy="199.2" r="2.4" fill="url(#gO)"/>
<circle cx="71.1" cy="199.8" r="2.4" fill="url(#gO)"/>
<circle cx="88.4" cy="198.3" r="2.4" fill="url(#gO)"/>
<circle cx="105.8" cy="198.3" r="2.4" fill="url(#gO)"/>
<circle cx="123.2" cy="199.2" r="2.4" fill="url(#gO)"/>
<circle cx="140.6" cy="198.3" r="2.4" fill="url(#gO)"/>
<circle cx="157.9" cy="202.3" r="2.4" fill="url(#gO)"/>
<circle cx="175.3" cy="199.2" r="2.4" fill="url(#gO)"/>
<circle cx="192.7" cy="207.9" r="2.4" fill="url(#gO)"/>
<circle cx="210.0" cy="194.8" r="2.4" fill="url(#gO)"/>
<circle cx="227.4" cy="192.8" r="2.4" fill="url(#gO)"/>
<circle cx="244.8" cy="194.8" r="2.4" fill="url(#gO)"/>
<circle cx="262.1" cy="192.4" r="2.4" fill="url(#gO)"/>
</g>
<clipPath id="cpL4"><rect x="33.5" y="238.0" width="240.3" height="69.5"/></clipPath>
<g clip-path="url(#cpL4)">
<polyline points="53.7,286.4 71.1,283.8 88.4,282.5 105.8,284.0 123.2,285.5 140.6,282.0 157.9,284.1 175.3,281.6 192.7,285.2 210.0,279.9 227.4,293.6 244.8,281.4 262.1,280.9" fill="none" stroke="#e8707e" stroke-width="0.90"/>
<circle cx="53.7" cy="286.4" r="2.4" fill="url(#gR)"/>
<circle cx="71.1" cy="283.8" r="2.4" fill="url(#gR)"/>
<circle cx="88.4" cy="282.5" r="2.4" fill="url(#gR)"/>
<circle cx="105.8" cy="284.0" r="2.4" fill="url(#gR)"/>
<circle cx="123.2" cy="285.5" r="2.4" fill="url(#gR)"/>
<circle cx="140.6" cy="282.0" r="2.4" fill="url(#gR)"/>
<circle cx="157.9" cy="284.1" r="2.4" fill="url(#gR)"/>
<circle cx="175.3" cy="281.6" r="2.4" fill="url(#gR)"/>
<circle cx="192.7" cy="285.2" r="2.4" fill="url(#gR)"/>
<circle cx="210.0" cy="279.9" r="2.4" fill="url(#gR)"/>
<circle cx="227.4" cy="293.6" r="2.4" fill="url(#gR)"/>
<circle cx="244.8" cy="281.4" r="2.4" fill="url(#gR)"/>
<circle cx="262.1" cy="280.9" r="2.4" fill="url(#gR)"/>
<polyline points="53.7,266.2 71.1,268.9 88.4,267.2 105.8,276.1 123.2,283.6 140.6,276.6 157.9,276.6 175.3,281.6 192.7,283.8 210.0,281.6 227.4,285.2 244.8,284.7 262.1,280.5" fill="none" stroke="#84e6e2" stroke-width="0.90"/>
<circle cx="53.7" cy="266.2" r="2.4" fill="url(#gC)"/>
<circle cx="71.1" cy="268.9" r="2.4" fill="url(#gC)"/>
<circle cx="88.4" cy="267.2" r="2.4" fill="url(#gC)"/>
<circle cx="105.8" cy="276.1" r="2.4" fill="url(#gC)"/>
<circle cx="123.2" cy="283.6" r="2.4" fill="url(#gC)"/>
<circle cx="140.6" cy="276.6" r="2.4" fill="url(#gC)"/>
<circle cx="157.9" cy="276.6" r="2.4" fill="url(#gC)"/>
<circle cx="175.3" cy="281.6" r="2.4" fill="url(#gC)"/>
<circle cx="192.7" cy="283.8" r="2.4" fill="url(#gC)"/>
<circle cx="210.0" cy="281.6" r="2.4" fill="url(#gC)"/>
<circle cx="227.4" cy="285.2" r="2.4" fill="url(#gC)"/>
<circle cx="244.8" cy="284.7" r="2.4" fill="url(#gC)"/>
<circle cx="262.1" cy="280.5" r="2.4" fill="url(#gC)"/>
<polyline points="53.7,267.4 71.1,267.4 88.4,266.2 105.8,272.2 123.2,274.6 140.6,276.8 157.9,269.4 175.3,278.2 192.7,279.9 210.0,260.7 227.4,279.9 244.8,267.9 262.1,269.4" fill="none" stroke="#ecad44" stroke-width="0.90"/>
<circle cx="53.7" cy="267.4" r="2.4" fill="url(#gO)"/>
<circle cx="71.1" cy="267.4" r="2.4" fill="url(#gO)"/>
<circle cx="88.4" cy="266.2" r="2.4" fill="url(#gO)"/>
<circle cx="105.8" cy="272.2" r="2.4" fill="url(#gO)"/>
<circle cx="123.2" cy="274.6" r="2.4" fill="url(#gO)"/>
<circle cx="140.6" cy="276.8" r="2.4" fill="url(#gO)"/>
<circle cx="157.9" cy="269.4" r="2.4" fill="url(#gO)"/>
<circle cx="175.3" cy="278.2" r="2.4" fill="url(#gO)"/>
<circle cx="192.7" cy="279.9" r="2.4" fill="url(#gO)"/>
<circle cx="210.0" cy="260.7" r="2.4" fill="url(#gO)"/>
<circle cx="227.4" cy="279.9" r="2.4" fill="url(#gO)"/>
<circle cx="244.8" cy="267.9" r="2.4" fill="url(#gO)"/>
<circle cx="262.1" cy="269.4" r="2.4" fill="url(#gO)"/>
</g>
<clipPath id="cpR1"><rect x="305.5" y="8.8" width="239.9" height="70.2"/></clipPath>
<g clip-path="url(#cpR1)">
<polyline points="329.5,75.9 350.8,76.8 372.0,76.8 393.3,75.9 414.6,76.8 435.9,76.2 457.1,76.2 478.4,76.2 499.7,76.2 520.9,76.8" fill="none" stroke="#e8707e" stroke-width="0.90"/>
<circle cx="329.5" cy="75.9" r="2.4" fill="url(#gR)"/>
<circle cx="350.8" cy="76.8" r="2.4" fill="url(#gR)"/>
<circle cx="372.0" cy="76.8" r="2.4" fill="url(#gR)"/>
<circle cx="393.3" cy="75.9" r="2.4" fill="url(#gR)"/>
<circle cx="414.6" cy="76.8" r="2.4" fill="url(#gR)"/>
<circle cx="435.9" cy="76.2" r="2.4" fill="url(#gR)"/>
<circle cx="457.1" cy="76.2" r="2.4" fill="url(#gR)"/>
<circle cx="478.4" cy="76.2" r="2.4" fill="url(#gR)"/>
<circle cx="499.7" cy="76.2" r="2.4" fill="url(#gR)"/>
<circle cx="520.9" cy="76.8" r="2.4" fill="url(#gR)"/>
<polyline points="329.5,64.6 350.8,64.0 372.0,70.9 393.3,66.3 414.6,70.8 435.9,67.4 457.1,67.4 478.4,62.9 499.7,61.4 520.9,61.9" fill="none" stroke="#84e6e2" stroke-width="0.90"/>
<circle cx="329.5" cy="64.6" r="2.4" fill="url(#gC)"/>
<circle cx="350.8" cy="64.0" r="2.4" fill="url(#gC)"/>
<circle cx="372.0" cy="70.9" r="2.4" fill="url(#gC)"/>
<circle cx="393.3" cy="66.3" r="2.4" fill="url(#gC)"/>
<circle cx="414.6" cy="70.8" r="2.4" fill="url(#gC)"/>
<circle cx="435.9" cy="67.4" r="2.4" fill="url(#gC)"/>
<circle cx="457.1" cy="67.4" r="2.4" fill="url(#gC)"/>
<circle cx="478.4" cy="62.9" r="2.4" fill="url(#gC)"/>
<circle cx="499.7" cy="61.4" r="2.4" fill="url(#gC)"/>
<circle cx="520.9" cy="61.9" r="2.4" fill="url(#gC)"/>
<polyline points="329.5,36.1 350.8,40.2 372.0,40.2 393.3,42.9 414.6,40.2 435.9,41.6 457.1,39.8 478.4,37.9 499.7,35.5 520.9,36.2" fill="none" stroke="#ecad44" stroke-width="0.90"/>
<circle cx="329.5" cy="36.1" r="2.4" fill="url(#gO)"/>
<circle cx="350.8" cy="40.2" r="2.4" fill="url(#gO)"/>
<circle cx="372.0" cy="40.2" r="2.4" fill="url(#gO)"/>
<circle cx="393.3" cy="42.9" r="2.4" fill="url(#gO)"/>
<circle cx="414.6" cy="40.2" r="2.4" fill="url(#gO)"/>
<circle cx="435.9" cy="41.6" r="2.4" fill="url(#gO)"/>
<circle cx="457.1" cy="39.8" r="2.4" fill="url(#gO)"/>
<circle cx="478.4" cy="37.9" r="2.4" fill="url(#gO)"/>
<circle cx="499.7" cy="35.5" r="2.4" fill="url(#gO)"/>
<circle cx="520.9" cy="36.2" r="2.4" fill="url(#gO)"/>
</g>
<clipPath id="cpR2"><rect x="305.5" y="84.8" width="239.9" height="68.8"/></clipPath>
<g clip-path="url(#cpR2)">
<polyline points="329.5,136.8 350.8,141.5 372.0,145.7 393.3,134.5 414.6,139.3 435.9,148.9 457.1,137.5 478.4,134.0 499.7,140.7 520.9,136.8" fill="none" stroke="#e8707e" stroke-width="0.90"/>
<circle cx="329.5" cy="136.8" r="2.4" fill="url(#gR)"/>
<circle cx="350.8" cy="141.5" r="2.4" fill="url(#gR)"/>
<circle cx="372.0" cy="145.7" r="2.4" fill="url(#gR)"/>
<circle cx="393.3" cy="134.5" r="2.4" fill="url(#gR)"/>
<circle cx="414.6" cy="139.3" r="2.4" fill="url(#gR)"/>
<circle cx="435.9" cy="148.9" r="2.4" fill="url(#gR)"/>
<circle cx="457.1" cy="137.5" r="2.4" fill="url(#gR)"/>
<circle cx="478.4" cy="134.0" r="2.4" fill="url(#gR)"/>
<circle cx="499.7" cy="140.7" r="2.4" fill="url(#gR)"/>
<circle cx="520.9" cy="136.8" r="2.4" fill="url(#gR)"/>
<polyline points="329.5,125.3 350.8,125.3 372.0,122.0 393.3,118.8 414.6,122.0 435.9,121.8 457.1,120.3 478.4,119.9 499.7,118.8 520.9,114.4" fill="none" stroke="#84e6e2" stroke-width="0.90"/>
<circle cx="329.5" cy="125.3" r="2.4" fill="url(#gC)"/>
<circle cx="350.8" cy="125.3" r="2.4" fill="url(#gC)"/>
<circle cx="372.0" cy="122.0" r="2.4" fill="url(#gC)"/>
<circle cx="393.3" cy="118.8" r="2.4" fill="url(#gC)"/>
<circle cx="414.6" cy="122.0" r="2.4" fill="url(#gC)"/>
<circle cx="435.9" cy="121.8" r="2.4" fill="url(#gC)"/>
<circle cx="457.1" cy="120.3" r="2.4" fill="url(#gC)"/>
<circle cx="478.4" cy="119.9" r="2.4" fill="url(#gC)"/>
<circle cx="499.7" cy="118.8" r="2.4" fill="url(#gC)"/>
<circle cx="520.9" cy="114.4" r="2.4" fill="url(#gC)"/>
<polyline points="329.5,103.3 350.8,104.4 372.0,105.5 393.3,104.4 414.6,106.8 435.9,109.6 457.1,107.4 478.4,106.1 499.7,107.9 520.9,107.4" fill="none" stroke="#ecad44" stroke-width="0.90"/>
<circle cx="329.5" cy="103.3" r="2.4" fill="url(#gO)"/>
<circle cx="350.8" cy="104.4" r="2.4" fill="url(#gO)"/>
<circle cx="372.0" cy="105.5" r="2.4" fill="url(#gO)"/>
<circle cx="393.3" cy="104.4" r="2.4" fill="url(#gO)"/>
<circle cx="414.6" cy="106.8" r="2.4" fill="url(#gO)"/>
<circle cx="435.9" cy="109.6" r="2.4" fill="url(#gO)"/>
<circle cx="457.1" cy="107.4" r="2.4" fill="url(#gO)"/>
<circle cx="478.4" cy="106.1" r="2.4" fill="url(#gO)"/>
<circle cx="499.7" cy="107.9" r="2.4" fill="url(#gO)"/>
<circle cx="520.9" cy="107.4" r="2.4" fill="url(#gO)"/>
</g>
<clipPath id="cpR3"><rect x="305.5" y="161.0" width="239.9" height="71.0"/></clipPath>
<g clip-path="url(#cpR3)">
<polyline points="329.5,207.2 350.8,214.2 372.0,171.2 393.3,214.4 414.6,191.9 435.9,216.4 457.1,177.8 478.4,219.2 499.7,218.2 520.9,221.4" fill="none" stroke="#e8707e" stroke-width="0.90"/>
<circle cx="329.5" cy="207.2" r="2.4" fill="url(#gR)"/>
<circle cx="350.8" cy="214.2" r="2.4" fill="url(#gR)"/>
<circle cx="372.0" cy="171.2" r="2.4" fill="url(#gR)"/>
<circle cx="393.3" cy="214.4" r="2.4" fill="url(#gR)"/>
<circle cx="414.6" cy="191.9" r="2.4" fill="url(#gR)"/>
<circle cx="435.9" cy="216.4" r="2.4" fill="url(#gR)"/>
<circle cx="457.1" cy="177.8" r="2.4" fill="url(#gR)"/>
<circle cx="478.4" cy="219.2" r="2.4" fill="url(#gR)"/>
<circle cx="499.7" cy="218.2" r="2.4" fill="url(#gR)"/>
<circle cx="520.9" cy="221.4" r="2.4" fill="url(#gR)"/>
<polyline points="329.5,209.4 350.8,215.9 372.0,204.7 393.3,215.9 414.6,208.8 435.9,218.8 457.1,212.2 478.4,219.7 499.7,219.7 520.9,221.4" fill="none" stroke="#84e6e2" stroke-width="0.90"/>
<circle cx="329.5" cy="209.4" r="2.4" fill="url(#gC)"/>
<circle cx="350.8" cy="215.9" r="2.4" fill="url(#gC)"/>
<circle cx="372.0" cy="204.7" r="2.4" fill="url(#gC)"/>
<circle cx="393.3" cy="215.9" r="2.4" fill="url(#gC)"/>
<circle cx="414.6" cy="208.8" r="2.4" fill="url(#gC)"/>
<circle cx="435.9" cy="218.8" r="2.4" fill="url(#gC)"/>
<circle cx="457.1" cy="212.2" r="2.4" fill="url(#gC)"/>
<circle cx="478.4" cy="219.7" r="2.4" fill="url(#gC)"/>
<circle cx="499.7" cy="219.7" r="2.4" fill="url(#gC)"/>
<circle cx="520.9" cy="221.4" r="2.4" fill="url(#gC)"/>
<polyline points="329.5,221.4 350.8,219.7 372.0,205.5 393.3,219.2 414.6,208.8 435.9,220.8 457.1,211.2 478.4,222.2 499.7,221.0 520.9,221.4" fill="none" stroke="#ecad44" stroke-width="0.90"/>
<circle cx="329.5" cy="221.4" r="2.4" fill="url(#gO)"/>
<circle cx="350.8" cy="219.7" r="2.4" fill="url(#gO)"/>
<circle cx="372.0" cy="205.5" r="2.4" fill="url(#gO)"/>
<circle cx="393.3" cy="219.2" r="2.4" fill="url(#gO)"/>
<circle cx="414.6" cy="208.8" r="2.4" fill="url(#gO)"/>
<circle cx="435.9" cy="220.8" r="2.4" fill="url(#gO)"/>
<circle cx="457.1" cy="211.2" r="2.4" fill="url(#gO)"/>
<circle cx="478.4" cy="222.2" r="2.4" fill="url(#gO)"/>
<circle cx="499.7" cy="221.0" r="2.4" fill="url(#gO)"/>
<circle cx="520.9" cy="221.4" r="2.4" fill="url(#gO)"/>
</g>
<clipPath id="cpR4"><rect x="305.5" y="239.3" width="239.9" height="69.2"/></clipPath>
<g clip-path="url(#cpR4)">
<polyline points="329.5,282.5 350.8,283.8 372.0,284.7 393.3,277.7 414.6,278.8 435.9,284.9 457.1,285.2 478.4,282.5 499.7,284.2 520.9,267.4" fill="none" stroke="#e8707e" stroke-width="0.90"/>
<circle cx="329.5" cy="282.5" r="2.4" fill="url(#gR)"/>
<circle cx="350.8" cy="283.8" r="2.4" fill="url(#gR)"/>
<circle cx="372.0" cy="284.7" r="2.4" fill="url(#gR)"/>
<circle cx="393.3" cy="277.7" r="2.4" fill="url(#gR)"/>
<circle cx="414.6" cy="278.8" r="2.4" fill="url(#gR)"/>
<circle cx="435.9" cy="284.9" r="2.4" fill="url(#gR)"/>
<circle cx="457.1" cy="285.2" r="2.4" fill="url(#gR)"/>
<circle cx="478.4" cy="282.5" r="2.4" fill="url(#gR)"/>
<circle cx="499.7" cy="284.2" r="2.4" fill="url(#gR)"/>
<circle cx="520.9" cy="267.4" r="2.4" fill="url(#gR)"/>
<polyline points="329.5,290.2 350.8,295.6 372.0,288.6 393.3,290.8 414.6,295.6 435.9,290.8 457.1,290.2 478.4,289.0 499.7,289.0 520.9,285.2" fill="none" stroke="#84e6e2" stroke-width="0.90"/>
<circle cx="329.5" cy="290.2" r="2.4" fill="url(#gC)"/>
<circle cx="350.8" cy="295.6" r="2.4" fill="url(#gC)"/>
<circle cx="372.0" cy="288.6" r="2.4" fill="url(#gC)"/>
<circle cx="393.3" cy="290.8" r="2.4" fill="url(#gC)"/>
<circle cx="414.6" cy="295.6" r="2.4" fill="url(#gC)"/>
<circle cx="435.9" cy="290.8" r="2.4" fill="url(#gC)"/>
<circle cx="457.1" cy="290.2" r="2.4" fill="url(#gC)"/>
<circle cx="478.4" cy="289.0" r="2.4" fill="url(#gC)"/>
<circle cx="499.7" cy="289.0" r="2.4" fill="url(#gC)"/>
<circle cx="520.9" cy="285.2" r="2.4" fill="url(#gC)"/>
<polyline points="329.5,298.6 350.8,298.6 372.0,297.2 393.3,294.7 414.6,298.6 435.9,298.6 457.1,301.7 478.4,301.2 499.7,302.2 520.9,302.8" fill="none" stroke="#ecad44" stroke-width="0.90"/>
<circle cx="329.5" cy="298.6" r="2.4" fill="url(#gO)"/>
<circle cx="350.8" cy="298.6" r="2.4" fill="url(#gO)"/>
<circle cx="372.0" cy="297.2" r="2.4" fill="url(#gO)"/>
<circle cx="393.3" cy="294.7" r="2.4" fill="url(#gO)"/>
<circle cx="414.6" cy="298.6" r="2.4" fill="url(#gO)"/>
<circle cx="435.9" cy="298.6" r="2.4" fill="url(#gO)"/>
<circle cx="457.1" cy="301.7" r="2.4" fill="url(#gO)"/>
<circle cx="478.4" cy="301.2" r="2.4" fill="url(#gO)"/>
<circle cx="499.7" cy="302.2" r="2.4" fill="url(#gO)"/>
<circle cx="520.9" cy="302.8" r="2.4" fill="url(#gO)"/>
</g>
<line x1="199.0" y1="324" x2="217.0" y2="324" stroke="#e8707e" stroke-width="0.90"/>
<circle cx="208.3" cy="324" r="2.1" fill="url(#gR)"/>
<text transform="translate(219.80,327.20) scale(0.935,1)" font-size="8.70" text-anchor="start" class="lg">Xiaolongbei</text>
<line x1="267.0" y1="324" x2="285.6" y2="324" stroke="#84e6e2" stroke-width="0.90"/>
<circle cx="276.6" cy="324" r="2.1" fill="url(#gC)"/>
<text transform="translate(288.00,327.20) scale(0.935,1)" font-size="8.70" text-anchor="start" class="lg">Bianyan</text>
<line x1="321.0" y1="324" x2="339.6" y2="324" stroke="#ecad44" stroke-width="0.90"/>
<circle cx="330.4" cy="324" r="2.1" fill="url(#gO)"/>
<text transform="translate(342.20,327.20) scale(0.935,1)" font-size="8.70" text-anchor="start" class="lg">Beidiping</text>
</g>
</svg></body></html>
